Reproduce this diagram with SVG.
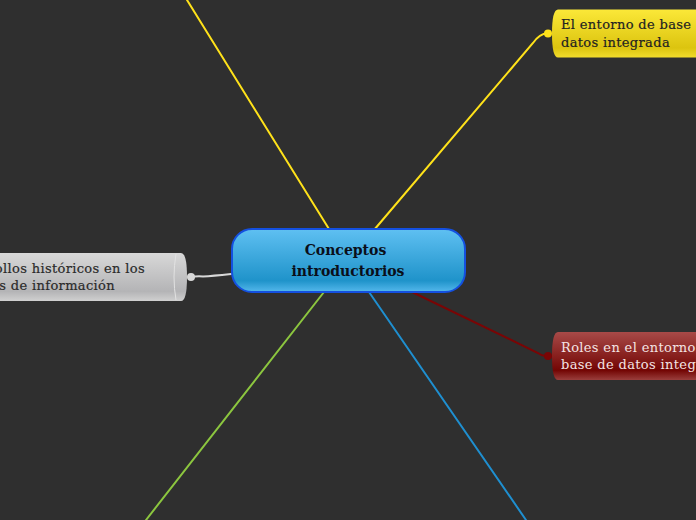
<svg xmlns="http://www.w3.org/2000/svg" width="696" height="520" viewBox="0 0 696 520">
<style>
.conn{fill:none;stroke-width:2;stroke-linecap:round}
.t{font-family:"DejaVu Serif","Liberation Serif",serif;font-size:13px;letter-spacing:.35px;stroke-width:.2px}
.c{font-family:"DejaVu Serif","Liberation Serif",serif;font-size:14px;font-weight:bold;fill:#0a0f1a;text-anchor:middle}
</style>
<defs>
<linearGradient id="gb" x1="0" y1="0" x2="0" y2="1"><stop offset="0" stop-color="#5fc0f2"/><stop offset=".82" stop-color="#1f93ca"/><stop offset="1" stop-color="#55b8ec"/></linearGradient>
<linearGradient id="gy" x1="0" y1="0" x2="0" y2="1"><stop offset="0" stop-color="#fbe838"/><stop offset=".8" stop-color="#dcc40f"/><stop offset="1" stop-color="#f2dc2c"/></linearGradient>
<linearGradient id="gr" x1="0" y1="0" x2="0" y2="1"><stop offset="0" stop-color="#a84a48"/><stop offset=".8" stop-color="#730604"/><stop offset="1" stop-color="#9a3e3c"/></linearGradient>
<linearGradient id="gg" x1="0" y1="0" x2="0" y2="1"><stop offset="0" stop-color="#d8d8d8"/><stop offset=".8" stop-color="#b4b4b6"/><stop offset="1" stop-color="#d0d0d0"/></linearGradient>
</defs>
<rect width="696" height="520" fill="#2f2f2f"/>
<g id="connectors">
<path class="conn" stroke="#ffe21a" d="M329 229L187 0"/>
<path class="conn" stroke="#ffe21a" d="M374 230L533 43Q540 33 548 33.500"/>
<path class="conn" stroke="#d8d8d8" d="M231 274Q212 276 203 276.500Q197 276 191 277"/>
<path class="conn" stroke="#8cc63f" d="M324 292L146 520"/>
<path class="conn" stroke="#1f8fd0" d="M369 292L526 520"/>
<path class="conn" stroke="#7a0505" d="M408 290L538 353Q543 357 548 356"/>
<circle cx="548" cy="33.500" r="4" fill="#ffe21a"/>
<circle cx="191" cy="277" r="4" fill="#d8d8d8"/>
<circle cx="548" cy="356" r="4" fill="#7a0505"/>
</g>
<g id="node-centre">
<rect x="232" y="229" width="233" height="63" rx="20" fill="url(#gb)" stroke="#1450e0" stroke-width="2"/>
<text class="c" x="345.500" y="255">Conceptos</text>
<text class="c" x="348" y="276">introductorios</text>
</g>
<g id="node-entorno">
<path d="M558 9.500H700V57.500H558Q552 57.500 552 33.500Q552 9.500 558 9.500Z" fill="url(#gy)"/>
<text class="t" x="561" y="29" fill="#222" stroke="#222">El entorno de base de</text>
<text class="t" x="561" y="47" fill="#222" stroke="#222">datos integrada</text>
</g>
<g id="node-roles">
<path d="M558 332H700V380H558Q552 380 552 356Q552 332 558 332Z" fill="url(#gr)"/>
<text class="t" x="561" y="352" fill="#f4e4e4">Roles en el entorno de</text>
<text class="t" x="561" y="369" fill="#f4e4e4">base de datos integrada</text>
</g>
<g id="node-desarrollos">
<path d="M-5 253H181Q187 253 187 277Q187 301 181 301H-5Z" fill="url(#gg)"/>
<path d="M176 254Q172 277 176 300" fill="none" stroke="#e2e2e2" stroke-width="1"/>
<text class="t" x="145" y="273" text-anchor="end" fill="#2a2a2a" stroke="#2a2a2a">Desarrollos históricos en los</text>
<text class="t" x="115" y="290" text-anchor="end" fill="#2a2a2a" stroke="#2a2a2a">sistemas de información</text>
</g>
</svg>
